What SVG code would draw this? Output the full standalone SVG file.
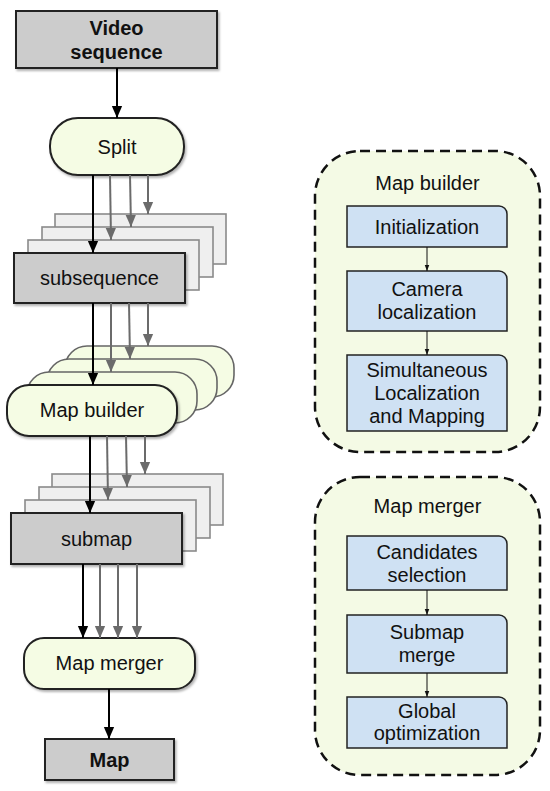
<svg xmlns="http://www.w3.org/2000/svg" width="550" height="791" viewBox="0 0 550 791">
<defs>
<style>
text{font-family:"Liberation Sans",Arial,sans-serif;font-size:20px;fill:#111;text-anchor:middle}
.b{font-weight:bold}
.gray{fill:#cccccc;stroke:#222;stroke-width:2}
.back{fill:#efefef;stroke:#8a8a8a;stroke-width:1.6}
.pill{fill:#f5fce4;stroke:#222;stroke-width:2}
.pillb{fill:#f5fce4;stroke:#666;stroke-width:1.6}
.cont{fill:#f4fae5;stroke:#111;stroke-width:2.5;stroke-dasharray:10 6}
.blue{fill:#cfe1f3;stroke:#222;stroke-width:1.5}
.ak{stroke:#000;stroke-width:2;fill:none}
.ag{stroke:#6b6b6b;stroke-width:2;fill:none}
.at{stroke:#111;stroke-width:1;fill:none}
</style>
<marker id="mk" markerUnits="userSpaceOnUse" markerWidth="12" markerHeight="14" refX="6" refY="13" orient="auto-start-reverse" viewBox="0 0 12 14">
<path d="M0,0 L12,0 L6,14 Z" fill="#000" transform="rotate(-90 6 7) translate(0 0)"/>
</marker>
<marker id="ah" markerUnits="userSpaceOnUse" markerWidth="12" markerHeight="14" viewBox="0 0 14 12" refX="14" refY="6" orient="auto">
<path d="M0,0 L14,6 L0,12 Z" fill="#000"/>
</marker>
<marker id="ahg" markerUnits="userSpaceOnUse" markerWidth="12" markerHeight="14" viewBox="0 0 14 12" refX="14" refY="6" orient="auto">
<path d="M0,0 L14,6 L0,12 Z" fill="#6b6b6b"/>
</marker>
<marker id="ahs" markerUnits="userSpaceOnUse" markerWidth="6" markerHeight="8" viewBox="0 0 8 6" refX="8" refY="3" orient="auto">
<path d="M0,0 L8,3 L0,6 Z" fill="#111"/>
</marker>
<filter id="sh" x="-10%" y="-10%" width="125%" height="130%">
<feDropShadow dx="1.5" dy="2" stdDeviation="1.2" flood-color="#000" flood-opacity="0.3"/>
</filter>
</defs>
<rect width="550" height="791" fill="#ffffff"/>

<g id="video-sequence">
<rect class="gray" x="16" y="11" width="201" height="57" filter="url(#sh)"/>
<text class="b" x="116.5" y="35">Video</text>
<text class="b" x="116.5" y="59">sequence</text>
</g>

<g id="split">
<rect class="pill" x="50" y="118" width="134" height="57" rx="28" filter="url(#sh)"/>
<text x="117" y="154">Split</text>
</g>

<g id="subsequence">
<rect class="back" x="55" y="214" width="171" height="50"/>
<rect class="back" x="42" y="227" width="171" height="50"/>
<rect class="back" x="28" y="240" width="171" height="50"/>
<rect class="gray" x="14" y="253" width="171" height="50" filter="url(#sh)"/>
<text x="99.5" y="285">subsequence</text>
</g>

<g id="map-builder">
<rect class="pillb" x="65" y="346" width="169" height="51" rx="22"/>
<rect class="pillb" x="47" y="359" width="170" height="51" rx="22"/>
<rect class="pillb" x="27" y="372" width="170" height="51" rx="22"/>
<rect class="pill" x="7" y="385" width="170" height="51" rx="22" filter="url(#sh)"/>
<text x="92" y="417">Map builder</text>
</g>

<g id="submap">
<rect class="back" x="52" y="474" width="171" height="51"/>
<rect class="back" x="39" y="487" width="171" height="51"/>
<rect class="back" x="25" y="500" width="171" height="51"/>
<rect class="gray" x="11" y="513" width="171" height="51" filter="url(#sh)"/>
<text x="96.5" y="546">submap</text>
</g>

<g id="map-merger">
<rect class="pill" x="24" y="638" width="171" height="51" rx="20" filter="url(#sh)"/>
<text x="109.5" y="670">Map merger</text>
</g>

<g id="map">
<rect class="gray" x="45" y="739" width="129" height="41" filter="url(#sh)"/>
<text class="b" x="109.5" y="767">Map</text>
</g>

<g id="map-builder-panel">
<rect class="cont" x="315" y="151" width="225" height="301" rx="45"/>
<text x="427.5" y="190">Map builder</text>
</g>
<g id="initialization">
<path class="blue" d="M347,206 H499 A8,8 0 0 1 507,214 V247 H347 Z"/>
<text x="427" y="234">Initialization</text>
</g>
<g id="camera-localization">
<path class="blue" d="M347,271 H499 A8,8 0 0 1 507,279 V331 H347 Z"/>
<text x="427" y="296">Camera</text>
<text x="427" y="319">localization</text>
</g>
<g id="slam">
<path class="blue" d="M347,355 H499 A8,8 0 0 1 507,363 V431 H347 Z"/>
<text x="427" y="377">Simultaneous</text>
<text x="427" y="400">Localization</text>
<text x="427" y="423">and Mapping</text>
</g>

<g id="map-merger-panel">
<rect class="cont" x="315" y="477" width="225" height="298" rx="45"/>
<text x="427.5" y="513">Map merger</text>
</g>
<g id="candidates-selection">
<path class="blue" d="M347,536 H499 A8,8 0 0 1 507,544 V590 H347 Z"/>
<text x="427" y="559">Candidates</text>
<text x="427" y="582">selection</text>
</g>
<g id="submap-merge">
<path class="blue" d="M347,615 H499 A8,8 0 0 1 507,623 V673 H347 Z"/>
<text x="427" y="639">Submap</text>
<text x="427" y="662">merge</text>
</g>
<g id="global-optimization">
<path class="blue" d="M347,697 H499 A8,8 0 0 1 507,705 V748 H347 Z"/>
<text x="427" y="718">Global</text>
<text x="427" y="740">optimization</text>
</g>

<g id="connectors">
<line class="ak" x1="117" y1="68" x2="117" y2="118" marker-end="url(#ah)"/>
<line class="ag" x1="148" y1="175" x2="148" y2="214" marker-end="url(#ahg)"/>
<line class="ag" x1="130" y1="175" x2="131" y2="227" marker-end="url(#ahg)"/>
<line class="ag" x1="110" y1="175" x2="111" y2="240" marker-end="url(#ahg)"/>
<line class="ak" x1="93" y1="175" x2="93" y2="253" marker-end="url(#ah)"/>

<line class="ag" x1="148" y1="303" x2="148" y2="346" marker-end="url(#ahg)"/>
<line class="ag" x1="129" y1="303" x2="130" y2="359" marker-end="url(#ahg)"/>
<line class="ag" x1="111" y1="303" x2="111" y2="372" marker-end="url(#ahg)"/>
<line class="ak" x1="93" y1="303" x2="93" y2="385" marker-end="url(#ah)"/>

<line class="ag" x1="145" y1="436" x2="145" y2="474" marker-end="url(#ahg)"/>
<line class="ag" x1="126" y1="436" x2="127" y2="487" marker-end="url(#ahg)"/>
<line class="ag" x1="107" y1="436" x2="108" y2="500" marker-end="url(#ahg)"/>
<line class="ak" x1="90" y1="436" x2="90" y2="513" marker-end="url(#ah)"/>

<line class="ak" x1="83" y1="564" x2="83" y2="638" marker-end="url(#ah)"/>
<line class="ag" x1="100" y1="564" x2="100" y2="638" marker-end="url(#ahg)"/>
<line class="ag" x1="118" y1="564" x2="118" y2="638" marker-end="url(#ahg)"/>
<line class="ag" x1="137" y1="564" x2="137" y2="638" marker-end="url(#ahg)"/>

<line class="ak" x1="109" y1="689" x2="109" y2="739" marker-end="url(#ah)"/>

<line class="at" x1="427" y1="247" x2="427" y2="271" marker-end="url(#ahs)"/>
<line class="at" x1="427" y1="331" x2="427" y2="355" marker-end="url(#ahs)"/>
<line class="at" x1="427" y1="590" x2="427" y2="615" marker-end="url(#ahs)"/>
<line class="at" x1="427" y1="673" x2="427" y2="697" marker-end="url(#ahs)"/>
</g>
</svg>
